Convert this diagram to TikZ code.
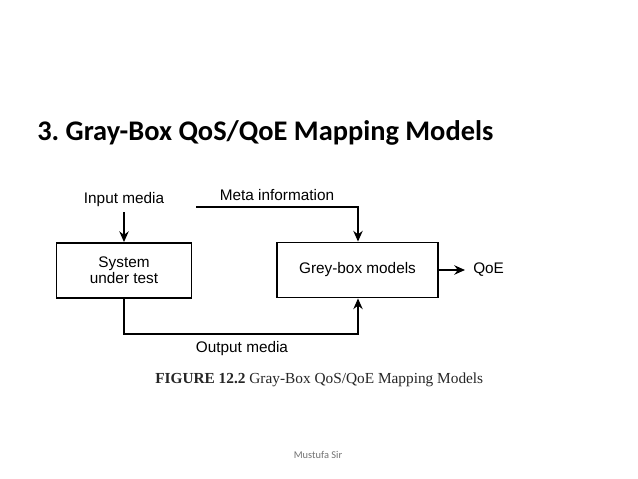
\documentclass[tikz,border=0pt]{standalone}
\usepackage{fontspec}
\setmainfont{Liberation Sans}
\newfontfamily\titlefont{Carlito}
\newfontfamily\capfont{Liberation Serif}
\usetikzlibrary{arrows.meta}
\frenchspacing
\begin{document}
\begin{tikzpicture}[x=0.75pt,y=-0.75pt,
  blk/.style={draw,line width=1.4pt,minimum height=55*0.75pt,align=center,font=\fontsize{11.5}{13}\selectfont,inner sep=0pt},
  lbl/.style={font=\fontsize{11.5}{13}\selectfont,inner sep=0pt},
  conn/.style={line width=1.4pt,-{Stealth[length=8pt,width=7pt]}}]
\useasboundingbox (0,0) rectangle (638,478);
\fill[white] (0,0) rectangle (638,478);
\node[anchor=west,font=\titlefont\bfseries\fontsize{21.3}{24}\selectfont,inner sep=0pt] (title) at (37,133) {3.\ Gray-Box QoS/QoE Mapping Models};
\node[blk,minimum width=135*0.75pt] (sut) at (124,270.5) {System\\[-1pt]under test};
\node[blk,minimum width=161*0.75pt] (gbm) at (357.5,270) {Grey-box models};
\node[lbl] (in) at (124,200) {Input media};
\node[lbl] (meta) at (277,195) {Meta information};
\node[lbl] (out) at (242,349) {Output media};
\node[lbl,anchor=west] (qoe) at (473,270) {QoE};
\coordinate (mstart) at (196,207);
\coordinate (mcorner) at (358,207);
\coordinate (ocorner1) at (124,334);
\coordinate (ocorner2) at (358,334);
\coordinate (intop) at (124,212);
\coordinate (qend) at (465,270);
\draw[conn] (intop) -- (sut.north);
\draw[conn] (mstart) -- (mcorner) -- (gbm.north -| mcorner);
\draw[conn] (sut.south -| ocorner1) -- (ocorner1) -- (ocorner2) -- (gbm.south -| ocorner2);
\draw[conn] (gbm.east) -- (qend);
\node[anchor=west,inner sep=0pt,text=black!85,font=\capfont\fontsize{11.5}{13}\selectfont] (cap) at (155,380) {\textbf{FIGURE 12.2} Gray-Box QoS/QoE Mapping Models};
\node[text=black!55,font=\titlefont\fontsize{7.8}{9}\selectfont,inner sep=0pt] (auth) at (318,455) {Mustufa Sir};
\end{tikzpicture}
\end{document}
